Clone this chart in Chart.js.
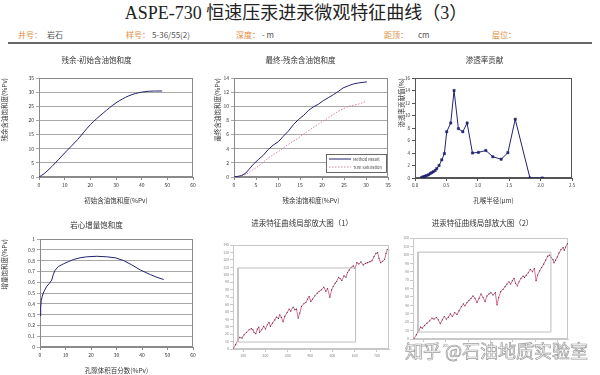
<!DOCTYPE html>
<html>
<head>
<meta charset="utf-8">
<script src="https://cdn.jsdelivr.net/npm/chart.js@4"></script>
<style>
  body { margin: 0; width: 600px; height: 375px; position: relative; background: #fff; overflow: hidden;
         font-family: "Noto Sans CJK SC", "Noto Sans", sans-serif; }
  canvas { position: absolute; }
  .t { position: absolute; white-space: nowrap; }
  #main { left: 0; width: 592px; top: 2px; text-align: center; font-size: 18px; line-height: 22px; color: #222;
          font-family: "Liberation Serif", "Noto Sans CJK SC", serif; }
  .hd { top: 30px; font-size: 8px; line-height: 10px; }
  .lb { color: #e08a3c; }
  .vl { color: #555; }
  #rule { position: absolute; left: 8px; top: 42px; width: 584px; height: 2px; background: #666; }
  #wm { left: 405px; top: 340px; font-size: 18px; line-height: 21px; color: rgba(255,255,255,0.92);
        -webkit-text-stroke: 0.7px #9a9a9a; }
</style>
</head>
<body>
<div class="t" id="main">ASPE-730 恒速压汞进汞微观特征曲线（3）</div>
<div class="t hd lb" style="left:18px">井号：</div><div class="t hd vl" style="left:47px">岩石</div>
<div class="t hd lb" style="left:126px">样号：</div><div class="t hd vl" style="left:152px">5-36/55(2)</div>
<div class="t hd lb" style="left:236px">深度：</div><div class="t hd vl" style="left:262px">-  m</div>
<div class="t hd lb" style="left:384px">距顶：</div><div class="t hd vl" style="left:418px">cm</div>
<div class="t hd lb" style="left:492px">层位：</div>
<div id="rule"></div>

<canvas id="c1"></canvas>
<canvas id="c2"></canvas>
<canvas id="c3"></canvas>
<canvas id="c4"></canvas>
<canvas id="c5"></canvas>
<canvas id="c6"></canvas>

<div class="t" id="wm">知乎 @石油地质实验室</div>

<script>
// 残余-初始含油饱和度
const RS_X = [0, 2, 5, 10, 15, 20, 25, 30, 35, 40, 45, 48];
const RS_Y = [0, 1.2, 3.7, 8.5, 13.2, 18.5, 22.6, 26.2, 28.7, 30.0, 30.4, 30.4];

// 最终-残余含油饱和度
const FR_A_X = [0, 1, 1.7, 2.7, 3.3, 4.4, 5.5, 6.7, 7.8, 8.9, 10.1, 11.2, 12.3, 13.5, 14.6, 15.8, 16.9, 18, 19.2, 20.3, 21.4, 22.6, 23.7, 24.8, 26, 27.1, 28.3, 30.2];
const FR_A_Y = [0, 0.1, 0.2, 0.57, 1.0, 1.8, 2.45, 3.1, 3.9, 4.5, 5.0, 5.75, 6.45, 7.4, 8.1, 8.7, 9.4, 9.9, 10.3, 10.8, 11.2, 11.65, 12.1, 12.6, 12.9, 13.15, 13.3, 13.45];
const FR_B_X = [1, 2.5, 4, 5.5, 7.8, 10.1, 12.3, 14.6, 16.9, 19.2, 21.4, 23.7, 26, 28.3, 30];
const FR_B_Y = [0.05, 0.3, 0.9, 1.5, 2.7, 3.6, 4.6, 5.5, 6.55, 7.5, 8.35, 9.3, 10, 10.3, 10.7];
const FR_LABELS = ["Method Result", "Ture Saturation"];

// 渗透率贡献
const PERM_R = [0.106, 0.133, 0.16, 0.186, 0.213, 0.24, 0.266, 0.29, 0.32, 0.346, 0.383, 0.426, 0.468, 0.505, 0.569, 0.622, 0.691, 0.761, 0.83, 0.915, 1.01, 1.128, 1.239, 1.372, 1.479, 1.596, 1.83, 2.026];
const PERM_C = [0.1, 0.2, 0.3, 0.4, 0.5, 0.7, 0.85, 1.0, 1.2, 1.5, 2.0, 2.9, 3.9, 7.4, 8.8, 14.0, 7.9, 7.4, 8.8, 4.0, 4.1, 4.4, 3.4, 3.0, 4.05, 9.4, 0, 0];

// 岩心增量饱和度
const INC_X = [0, 0.26, 0.5, 0.9, 1.3, 1.7, 2.6, 3.7, 4.6, 5.2, 5.9, 7.2, 9.2, 11.1, 13.1, 15.7, 18.3, 22.3, 26.2, 29.5, 32.8, 36, 39.3, 43.3, 45.9, 48.5];
const INC_Y = [0.29, 0.37, 0.43, 0.47, 0.5, 0.52, 0.56, 0.59, 0.62, 0.67, 0.71, 0.745, 0.77, 0.79, 0.81, 0.826, 0.835, 0.84, 0.835, 0.826, 0.80, 0.76, 0.714, 0.67, 0.645, 0.625];

// 进汞特征曲线局部放大图（1）
const Z1_X = [0, 1.7, 3.2, 4.3, 5.8, 7.1, 8.6, 10.3, 11.8, 12.8, 13.5, 14.6, 15.6, 16.5, 17.1, 18.4, 19.7, 20.8, 22, 23.1, 24, 25.3, 26.8, 27.8, 29.1, 30, 31, 32.1, 33.2, 34.7, 36, 37, 38.5, 39.6, 40.7, 41.8, 42.8, 43.9, 45.4, 46.7, 47.8, 48.8, 49.9, 51, 52.5, 54, 55.2, 56.7, 58.2, 59.5, 60.6, 62.1, 63.2, 64.2, 65.5, 66.4, 67.7, 68.7, 69.8, 71.1, 72.4, 73.4, 74.5, 75.8, 77.1, 78.2, 79.4, 80.7, 82, 83.5, 85, 86.3, 87.8, 89.1, 90.4, 91.6, 92.7, 93.6, 94.6, 95.9, 97.2, 98.1, 98.9];
const Z1_Y = [0, 4.2, 8.9, 11.2, 10.5, 13.7, 16, 18.5, 19.5, 18.5, 16, 14.7, 19.2, 21, 16, 18.5, 21.7, 19.2, 23.3, 25.6, 21.7, 24.9, 28, 30.7, 29.4, 32.9, 30.4, 26.2, 31.3, 35.1, 38.3, 36.4, 40.3, 37.7, 38.3, 29.7, 34.5, 40.9, 43.5, 44.7, 47.9, 50.5, 45.7, 47.9, 51.1, 53.7, 55.3, 56.9, 59.4, 55.6, 58.1, 49.8, 56.9, 60.1, 63.3, 64.9, 69, 67.7, 65.8, 70.3, 69, 73.5, 76, 78.6, 79.9, 77.6, 83, 81.8, 83.7, 80.8, 82.4, 83, 84, 84.9, 88.8, 92, 92.7, 87.2, 83, 84.3, 86.3, 92, 95.8];
const Z1_BOX_X = [3.2, 78.6, 78.6, 3.2, 3.2];
const Z1_BOX_Y = [6.7, 6.7, 77.9, 77.9, 6.7];
const Z1_YTICKS = ["0", "10", "20", "30", "40", "50", "60", "70", "80", "90", "100", "110", "120", "130", "140"];
const Z1_XPOS = [6.5, 20.8, 35.1, 49.4, 63.7, 78, 92.3];
const Z1_XTICKS = ["100", "200", "300", "400", "500", "600", "700"];

// 进汞特征曲线局部放大图（2）
const Z2_X = [0.6, 2.2, 3.7, 4.9, 6, 7.5, 9, 10.8, 12.3, 13.5, 15.1, 16.3, 17.6, 18.9, 20.2, 21.5, 22.8, 24.1, 25.4, 26.9, 28.4, 29.7, 31.2, 32.5, 33.5, 34.8, 36.1, 37.4, 38.7, 40, 41.3, 42.6, 43.9, 45.2, 46.5, 47.7, 49, 50.3, 51.6, 53.1, 54.2, 55.3, 56.6, 58.1, 59.4, 60.6, 61.9, 63, 64.1, 65.2, 66.2, 67.3, 68.4, 69.7, 71, 72, 73.1, 74.4, 75.7, 77, 78.3, 79.4, 80.4, 81.7, 83, 84.3, 85.6, 86.9, 88.2, 89.2, 90.3, 91, 92, 93.1, 94.2, 95.5, 96.8, 97.6, 98.5, 99.6];
const Z2_Y = [0, 4.3, 8.5, 11.8, 10.8, 13.4, 15.7, 18, 20.7, 19.7, 21.3, 19, 15.1, 19, 22.3, 19.7, 21.6, 24.9, 22.3, 26.2, 24.3, 27.9, 32.1, 34.8, 32.8, 36.1, 38, 40.3, 42.6, 40.3, 36.1, 40.3, 44.6, 41.3, 37, 42.6, 44.6, 45.9, 43.6, 45.9, 33.8, 41.3, 46.9, 49.2, 51.8, 54.4, 56.7, 54.4, 57.7, 60, 55.1, 52.5, 56.7, 60, 62.3, 61, 63.3, 65.6, 68.9, 66.6, 69.8, 57.7, 63.3, 67.5, 70.8, 74.1, 78, 82, 83, 80.7, 78.7, 75.4, 78, 81.3, 85.2, 88.5, 90.5, 87.9, 91.1, 94.4];
const Z2_BOX_X = [3.2, 89, 89, 3.2, 3.2];
const Z2_BOX_Y = [6.9, 6.9, 86, 86, 6.9];
const Z2_YTICKS = ["0", "10", "20", "30", "40", "50", "60", "70", "80", "90", "100", "110", "120"];
const Z2_XPOS = [6.5, 21, 35.5, 50, 64.5, 79, 93.5];
const Z2_XTICKS = ["100", "200", "300", "400", "500", "600", "700"];

const FONT = '"Noto Sans CJK SC", "Noto Sans", sans-serif';
const NAVY = '#23236e';

const pts = (xs, ys) => xs.map((x, i) => ({ x, y: ys[i] }));

const framePlugin = {
  id: 'frame',
  beforeDatasetsDraw(chart, args, opts) {
    const { ctx, chartArea: a } = chart;
    ctx.save();
    ctx.strokeStyle = opts.color || '#888';
    ctx.lineWidth = 1;
    ctx.strokeRect(Math.round(a.left) + 0.5, Math.round(a.top) + 0.5,
                   Math.round(a.right - a.left) - 1, Math.round(a.bottom - a.top) - 1);
    ctx.restore();
  }
};

const legendBox = {
  id: 'legendBox',
  afterDraw(chart) {
    const { ctx, chartArea: a } = chart;
    const x0 = a.right - 62, y0 = a.bottom - 23, w = 60, h = 18;
    ctx.save();
    ctx.fillStyle = '#fff';
    ctx.fillRect(x0, y0, w, h);
    ctx.strokeStyle = '#444';
    ctx.lineWidth = 0.8;
    ctx.strokeRect(x0 + 0.5, y0 + 0.5, w, h);
    chart.data.datasets.forEach((ds, i) => {
      const y = y0 + 5 + i * 8;
      ctx.strokeStyle = ds.borderColor;
      ctx.lineWidth = ds.borderWidth;
      ctx.setLineDash(ds.borderDash || []);
      ctx.beginPath(); ctx.moveTo(x0 + 3, y); ctx.lineTo(x0 + 25, y); ctx.stroke();
      ctx.setLineDash([]);
      ctx.fillStyle = '#444';
      ctx.font = '4px ' + FONT;
      ctx.textBaseline = 'middle';
      ctx.fillText(ds.label, x0 + 27, y);
    });
    ctx.restore();
  }
};

function make(id, g, cfg) {
  const c = document.getElementById(id);
  c.width = g.cw; c.height = g.ch;
  c.style.left = g.cl + 'px'; c.style.top = g.ct + 'px';
  const lh = 7.5 * 1.2;
  const tTop = g.ty - g.ct - lh / 2;
  const tick = { color: '#333', font: { family: FONT, size: g.tf || 5 }, padding: 2 };
  const axTitle = (text, align) => ({ display: !!text, text, color: '#333', align: align || 'center',
                                       font: { family: FONT, size: 6.5 }, padding: 1 });
  const xs = Object.assign({ type: 'linear', border: { color: g.fc }, grid: { display: true, drawOnChartArea: false, tickLength: 3, color: g.fc },
                             ticks: Object.assign({}, tick), title: axTitle(g.xt) }, cfg.x);
  const ys = Object.assign({ type: 'linear', border: { color: g.fc },
                             grid: { display: true, drawOnChartArea: !!g.grid, tickLength: 3, color: g.grid || g.fc },
                             ticks: Object.assign({}, tick), title: axTitle(g.yt, 'end') }, cfg.y);
  xs.ticks = Object.assign(xs.ticks, cfg.xticks || {});
  ys.ticks = Object.assign(ys.ticks, cfg.yticks || {});
  xs.afterFit = s => { s.height = g.ct + g.ch - g.pb; };
  ys.afterFit = s => { s.width = g.pl - g.cl; };
  return new Chart(c, {
    type: 'line',
    data: { datasets: cfg.datasets },
    options: {
      responsive: false, animation: false,
      layout: { padding: { left: 0, top: 0, bottom: 0, right: g.cl + g.cw - g.pr } },
      plugins: {
        legend: { display: false }, tooltip: { enabled: false },
        title: { display: true, text: g.title, color: '#333', font: { family: FONT, size: 7.5, weight: 'normal' },
                 padding: { top: tTop, bottom: g.pt - g.ct - tTop - lh } },
        frame: { color: g.fc }
      },
      scales: { x: xs, y: ys }
    },
    plugins: [framePlugin].concat(cfg.plugins || [])
  });
}

const line = (data, color, extra) => Object.assign({ data, borderColor: color, borderWidth: 1, pointRadius: 0,
                                                      fill: false, tension: 0 }, extra || {});

make('c1', { cl: 0, ct: 45, cw: 198, ch: 160, pl: 39, pt: 78, pr: 193, pb: 177, ty: 60,
             title: '残余-初始含油饱和度', xt: '初始含油饱和度(%Pv)', yt: '残余含油饱和度(%Pv)', fc: '#8a8a8a', grid: '#a8a8a8' }, {
  x: { min: 0, max: 60 }, xticks: { stepSize: 10 },
  y: { min: 0, max: 35 }, yticks: { stepSize: 5 },
  datasets: [line(pts(RS_X, RS_Y), NAVY, { cubicInterpolationMode: 'monotone' })]
});

make('c2', { cl: 213, ct: 45, cw: 204, ch: 160, pl: 234, pt: 78, pr: 388, pb: 177, ty: 60,
             title: '最终-残余含油饱和度', xt: '残余油饱和度(%Pv)', yt: '最终含油饱和度(%Pv)', fc: '#8a8a8a', grid: '#a8a8a8' }, {
  x: { min: 0, max: 35 }, xticks: { stepSize: 5 },
  y: { min: 0, max: 14 }, yticks: { stepSize: 2 },
  datasets: [
    line(pts(FR_A_X, FR_A_Y), NAVY, { label: FR_LABELS[0] }),
    line(pts(FR_B_X, FR_B_Y), '#d880a8', { label: FR_LABELS[1], borderDash: [1.5, 1.5] })
  ],
  plugins: [legendBox]
});

make('c3', { cl: 397, ct: 45, cw: 200, ch: 160, pl: 415, pt: 78, pr: 572, pb: 178, ty: 60,
             title: '渗透率贡献', xt: '孔喉半径(μm)', yt: '渗透率贡献值(%)', fc: '#555', grid: null, tf: 4.5 }, {
  x: { min: 0, max: 2.5 }, xticks: { stepSize: 0.5, callback: v => v.toFixed(1) },
  y: { min: 0, max: 16 }, yticks: { stepSize: 2 },
  datasets: [line(pts(PERM_R, PERM_C), NAVY, { pointRadius: 1.6, pointStyle: 'rect',
                                               pointBackgroundColor: NAVY, pointBorderColor: NAVY, pointBorderWidth: 0.5 })]
});

make('c4', { cl: 0, ct: 210, cw: 200, ch: 165, pl: 40, pt: 239, pr: 193, pb: 347, ty: 225,
             title: '岩心增量饱和度', xt: '孔隙体积百分数(%Pv)', yt: '增量饱和度(%Pv)', fc: '#8a8a8a', grid: '#a8a8a8' }, {
  x: { min: 0, max: 60 }, xticks: { stepSize: 10 },
  y: { min: 0, max: 1 }, yticks: { stepSize: 0.1, callback: v => String(+v.toFixed(1)) },
  datasets: [line(pts(INC_X, INC_Y), NAVY)]
});

function zoomAxes(yLabels, xPos, xLabels) {
  return {
    x: { min: 0, max: 100,
         afterBuildTicks: s => { s.ticks = xPos.map(v => ({ value: v })); } },
    xticks: { color: '#888', font: { family: FONT, size: 3.5 }, autoSkip: false, maxRotation: 0,
              callback: (v, i) => xLabels[i] },
    y: { min: 0, max: 100,
         afterBuildTicks: s => { s.ticks = yLabels.map((l, i) => ({ value: i * 100 / (yLabels.length - 1) })); } },
    yticks: { color: '#888', font: { family: FONT, size: 3.5 }, autoSkip: false, padding: 1,
              callback: (v, i) => yLabels[i] }
  };
}

const zoomLine = data => line(data, '#cc5070', { borderWidth: 0.8, pointRadius: 0.6,
                                                 pointBackgroundColor: '#5a2448', pointBorderWidth: 0 });
const boxLine = data => line(data, '#bdbdbd', { borderWidth: 1 });

make('c5', { cl: 215, ct: 210, cw: 200, ch: 165, pl: 233, pt: 245, pr: 389, pb: 349, ty: 223,
             title: '进汞特征曲线局部放大图（1）', fc: '#c8c8c8', grid: null }, Object.assign(zoomAxes(Z1_YTICKS, Z1_XPOS, Z1_XTICKS), {
  datasets: [boxLine(pts(Z1_BOX_X, Z1_BOX_Y)), zoomLine(pts(Z1_X, Z1_Y))]
}));

make('c6', { cl: 397, ct: 210, cw: 200, ch: 165, pl: 413, pt: 238, pr: 568, pb: 339, ty: 223,
             title: '进汞特征曲线局部放大图（2）', fc: '#c8c8c8', grid: null }, Object.assign(zoomAxes(Z2_YTICKS, Z2_XPOS, Z2_XTICKS), {
  datasets: [boxLine(pts(Z2_BOX_X, Z2_BOX_Y)), zoomLine(pts(Z2_X, Z2_Y))]
}));
</script>
</body>
</html>
